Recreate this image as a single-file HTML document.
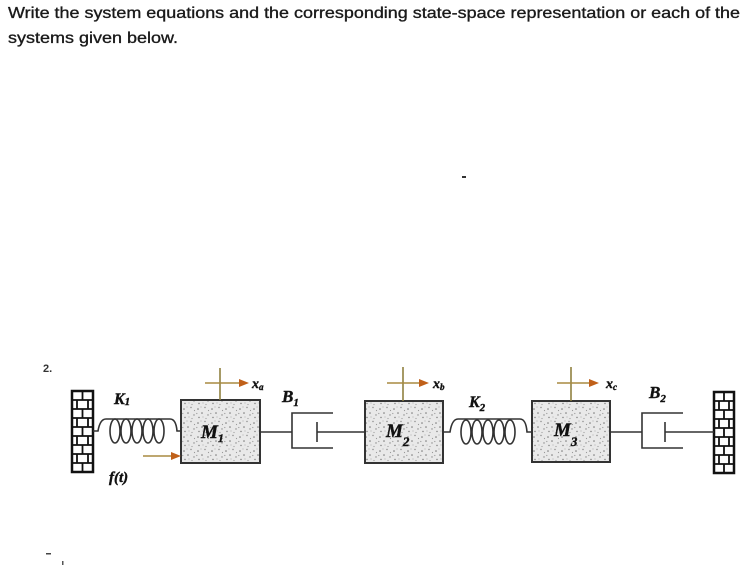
<!DOCTYPE html>
<html>
<head>
<meta charset="utf-8">
<style>
  html,body{margin:0;padding:0;background:#fff;}
  svg{display:block;}
  .t{font-family:"Liberation Sans",sans-serif;font-size:16px;fill:#1a1a1a;stroke:#1a1a1a;stroke-width:0.35;}
  .m{font-family:"Liberation Serif",serif;font-style:italic;font-weight:bold;fill:#111;stroke:#111;stroke-width:0.4;}
</style>
</head>
<body>
<svg width="745" height="574" viewBox="0 0 745 574" xmlns="http://www.w3.org/2000/svg">
  <defs>
    <pattern id="dots" x="0" y="0" width="14" height="14" patternUnits="userSpaceOnUse">
      <rect width="14" height="14" fill="#e9e9e9"/>
      <circle cx="2" cy="3" r="0.8" fill="#777"/>
      <circle cx="9" cy="1.5" r="0.7" fill="#888"/>
      <circle cx="6" cy="7" r="0.8" fill="#777"/>
      <circle cx="12" cy="9" r="0.7" fill="#888"/>
      <circle cx="3" cy="11.5" r="0.7" fill="#7a7a7a"/>
      <circle cx="10" cy="12.5" r="0.6" fill="#999"/>
      <circle cx="12.5" cy="4.5" r="0.6" fill="#999"/>
      <circle cx="0.8" cy="7.5" r="0.6" fill="#999"/>
      <circle cx="7" cy="11" r="0.5" fill="#999"/>
      <circle cx="5" cy="1" r="0.5" fill="#999"/>
    </pattern>
  </defs>

  <rect width="745" height="574" fill="#fff"/>

  <!-- Title -->
  <text class="t" x="8" y="18" textLength="732" lengthAdjust="spacingAndGlyphs">Write the system equations and the corresponding state-space representation or each of the</text>
  <text class="t" x="8" y="43" textLength="170" lengthAdjust="spacingAndGlyphs">systems  given below.</text>

  <!-- specks -->
  <rect x="462" y="176" width="4" height="2" fill="#333"/>
  <rect x="46" y="553" width="5" height="1.5" fill="#444"/>
  <rect x="62" y="561" width="1.5" height="4" fill="#555"/>

  <!-- "2." -->
  <text x="43" y="372" font-family="Liberation Sans,sans-serif" font-weight="bold" font-size="11" fill="#333">2.</text>

  <!-- Left wall -->
  <g stroke="#111" fill="#fff">
    <rect x="72" y="391" width="21" height="81" stroke-width="2.5"/>
    <g stroke-width="1.8">
      <line x1="72" y1="400" x2="93" y2="400"/>
      <line x1="72" y1="409" x2="93" y2="409"/>
      <line x1="72" y1="418" x2="93" y2="418"/>
      <line x1="72" y1="427" x2="93" y2="427"/>
      <line x1="72" y1="436" x2="93" y2="436"/>
      <line x1="72" y1="445" x2="93" y2="445"/>
      <line x1="72" y1="454" x2="93" y2="454"/>
      <line x1="72" y1="463" x2="93" y2="463"/>
      <line x1="82.5" y1="391" x2="82.5" y2="400"/>
      <line x1="77" y1="400" x2="77" y2="409"/><line x1="88" y1="400" x2="88" y2="409"/>
      <line x1="82.5" y1="409" x2="82.5" y2="418"/>
      <line x1="77" y1="418" x2="77" y2="427"/><line x1="88" y1="418" x2="88" y2="427"/>
      <line x1="82.5" y1="427" x2="82.5" y2="436"/>
      <line x1="77" y1="436" x2="77" y2="445"/><line x1="88" y1="436" x2="88" y2="445"/>
      <line x1="82.5" y1="445" x2="82.5" y2="454"/>
      <line x1="77" y1="454" x2="77" y2="463"/><line x1="88" y1="454" x2="88" y2="463"/>
      <line x1="82.5" y1="463" x2="82.5" y2="472"/>
    </g>
  </g>

  <!-- Right wall -->
  <g stroke="#111" fill="#fff">
    <rect x="714" y="392" width="20" height="81" stroke-width="2.5"/>
    <g stroke-width="1.8">
      <line x1="714" y1="401" x2="734" y2="401"/>
      <line x1="714" y1="410" x2="734" y2="410"/>
      <line x1="714" y1="419" x2="734" y2="419"/>
      <line x1="714" y1="428" x2="734" y2="428"/>
      <line x1="714" y1="437" x2="734" y2="437"/>
      <line x1="714" y1="446" x2="734" y2="446"/>
      <line x1="714" y1="455" x2="734" y2="455"/>
      <line x1="714" y1="464" x2="734" y2="464"/>
      <line x1="724" y1="392" x2="724" y2="401"/>
      <line x1="719" y1="401" x2="719" y2="410"/><line x1="729" y1="401" x2="729" y2="410"/>
      <line x1="724" y1="410" x2="724" y2="419"/>
      <line x1="719" y1="419" x2="719" y2="428"/><line x1="729" y1="419" x2="729" y2="428"/>
      <line x1="724" y1="428" x2="724" y2="437"/>
      <line x1="719" y1="437" x2="719" y2="446"/><line x1="729" y1="437" x2="729" y2="446"/>
      <line x1="724" y1="446" x2="724" y2="455"/>
      <line x1="719" y1="455" x2="719" y2="464"/><line x1="729" y1="455" x2="729" y2="464"/>
      <line x1="724" y1="464" x2="724" y2="473"/>
    </g>
  </g>

  <!-- Spring K1 -->
  <g stroke="#333" stroke-width="1.6" fill="none">
    <path d="M93,431 H98 Q100,419 106,419 H170 Q176,419 177,431 H181"/>
    <ellipse cx="115" cy="431" rx="5" ry="12"/>
    <ellipse cx="126" cy="431" rx="5" ry="12"/>
    <ellipse cx="137" cy="431" rx="5" ry="12"/>
    <ellipse cx="148" cy="431" rx="5" ry="12"/>
    <ellipse cx="159" cy="431" rx="5" ry="12"/>
  </g>

  <!-- Spring K2 -->
  <g stroke="#333" stroke-width="1.6" fill="none">
    <path d="M443,432 H450 Q452,419 458,419 H520 Q526,419 527,432 H532"/>
    <ellipse cx="466" cy="432" rx="5" ry="12"/>
    <ellipse cx="477" cy="432" rx="5" ry="12"/>
    <ellipse cx="488" cy="432" rx="5" ry="12"/>
    <ellipse cx="499" cy="432" rx="5" ry="12"/>
    <ellipse cx="510" cy="432" rx="5" ry="12"/>
  </g>

  <!-- Masses -->
  <rect x="181" y="400" width="79" height="63" fill="url(#dots)" stroke="#333" stroke-width="2"/>
  <rect x="365" y="401" width="78" height="62" fill="url(#dots)" stroke="#333" stroke-width="2"/>
  <rect x="532" y="401" width="78" height="61" fill="url(#dots)" stroke="#333" stroke-width="2"/>

  <!-- Damper B1 -->
  <g stroke="#333" stroke-width="1.6" fill="none">
    <line x1="260" y1="432" x2="292" y2="432"/>
    <path d="M333,413 H292 V448 H333"/>
    <line x1="317" y1="422" x2="317" y2="442"/>
    <line x1="317" y1="432" x2="365" y2="432"/>
  </g>

  <!-- Damper B2 -->
  <g stroke="#333" stroke-width="1.6" fill="none">
    <line x1="610" y1="432" x2="642" y2="432"/>
    <path d="M683,413 H642 V448 H683"/>
    <line x1="665" y1="422" x2="665" y2="442"/>
    <line x1="665" y1="432" x2="714" y2="432"/>
  </g>

  <!-- Position arrows -->
  <g>
    <line x1="220" y1="368" x2="220" y2="400" stroke="#8f8040" stroke-width="1.6"/>
    <line x1="205" y1="383" x2="241" y2="383" stroke="#a88a40" stroke-width="1.6"/>
    <polygon points="239,379 249,383 239,387" fill="#c0601a"/>

    <line x1="403" y1="367" x2="403" y2="401" stroke="#8f8040" stroke-width="1.6"/>
    <line x1="387" y1="383" x2="421" y2="383" stroke="#a88a40" stroke-width="1.6"/>
    <polygon points="419,379 429,383 419,387" fill="#c0601a"/>

    <line x1="571" y1="367" x2="571" y2="401" stroke="#8f8040" stroke-width="1.6"/>
    <line x1="557" y1="383" x2="591" y2="383" stroke="#a88a40" stroke-width="1.6"/>
    <polygon points="589,379 599,383 589,387" fill="#c0601a"/>

    <!-- f(t) arrow -->
    <line x1="143" y1="456" x2="173" y2="456" stroke="#a88a40" stroke-width="1.6"/>
    <polygon points="171,452 181,456 171,460" fill="#c0601a"/>
  </g>

  <!-- Labels -->
  <text class="m" x="252" y="388" font-size="14">x<tspan font-size="9" dy="2">a</tspan></text>
  <text class="m" x="433" y="388" font-size="14">x<tspan font-size="9" dy="2">b</tspan></text>
  <text class="m" x="606" y="388" font-size="14">x<tspan font-size="9" dy="2">c</tspan></text>

  <text class="m" x="114" y="404" font-size="16">K<tspan font-size="11" dy="1">1</tspan></text>
  <text class="m" x="469" y="407" font-size="16">K<tspan font-size="11" dy="4">2</tspan></text>
  <text class="m" x="282" y="402" font-size="17">B<tspan font-size="11" dy="4">1</tspan></text>
  <text class="m" x="649" y="398" font-size="17">B<tspan font-size="11" dy="4">2</tspan></text>

  <text class="m" x="201" y="438" font-size="19">M<tspan font-size="12" dy="4">1</tspan></text>
  <text class="m" x="386" y="437" font-size="19">M<tspan font-size="13" dy="9">2</tspan></text>
  <text class="m" x="554" y="436" font-size="19">M<tspan font-size="13" dy="10">3</tspan></text>

  <text class="m" x="109" y="482" font-size="15">f(t)</text>
</svg>
</body>
</html>
